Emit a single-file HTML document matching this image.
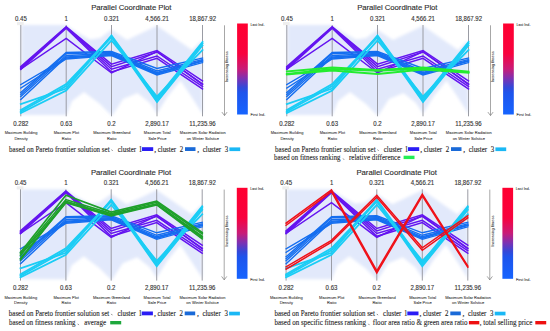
<!DOCTYPE html>
<html><head><meta charset="utf-8"><style>
html,body{margin:0;padding:0;background:#fff;}
svg{display:block;}
.s{font-family:"Liberation Sans",sans-serif;}
.r{font-family:"Liberation Serif",serif;stroke:#2a2a2a;stroke-width:0.12px;}
</style></head><body>
<svg width="550" height="331" viewBox="0 0 550 331">
<defs>
<linearGradient id="cb" x1="0" y1="0" x2="0" y2="1">
<stop offset="0" stop-color="#ff0030"/>
<stop offset="0.33" stop-color="#f8023e"/>
<stop offset="0.5" stop-color="#c81c78"/>
<stop offset="0.6" stop-color="#8030b0"/>
<stop offset="0.7" stop-color="#3448d8"/>
<stop offset="0.76" stop-color="#1e54ec"/>
<stop offset="1" stop-color="#1664ff"/>
</linearGradient>
<filter id="bl" x="-10%" y="-10%" width="120%" height="120%"><feGaussianBlur stdDeviation="1.6"/></filter>
</defs>
<rect width="550" height="331" fill="#fff"/>
<g transform="translate(0,0)">
<polygon points="21.3,25 66.2,25 75,31 90,39.5 100,38 111.5,29.8 127,40 157,25.8 192,50 202.5,40 202.5,114 191,96 180.5,80.5 168,96 157,113.5 150,103 137.5,93 123,99 112,116 100,104 84,92 72,101 66.5,115 21.3,115" fill="#e2e9fb" filter="url(#bl)"/>
<rect x="17" y="22" width="6.7" height="3.2" fill="#eeeeee"/>
<line x1="20.8" y1="25" x2="20.8" y2="116.3" stroke="#9a9ca4" stroke-width="1"/>
<line x1="66.2" y1="25" x2="66.2" y2="116.3" stroke="#9a9ca4" stroke-width="1"/>
<line x1="111.5" y1="25" x2="111.5" y2="116.3" stroke="#9a9ca4" stroke-width="1"/>
<line x1="157.0" y1="25" x2="157.0" y2="116.3" stroke="#9a9ca4" stroke-width="1"/>
<line x1="202.5" y1="25" x2="202.5" y2="116.3" stroke="#9a9ca4" stroke-width="1"/>
<polyline points="20.8,66.5 66.2,26.8 111.5,64.2 157.0,50.5 202.5,81.0" fill="none" stroke="#6414f0" stroke-width="1.5" stroke-opacity="1.0" stroke-linejoin="miter" stroke-miterlimit="6" stroke-linecap="square"/>
<polyline points="20.8,67.5 66.2,27.3 111.5,66.6 157.0,52.0 202.5,84.0" fill="none" stroke="#6414f0" stroke-width="1.5" stroke-opacity="1.0" stroke-linejoin="miter" stroke-miterlimit="6" stroke-linecap="square"/>
<polyline points="20.8,68.5 66.2,27.8 111.5,69.2 157.0,56.0 202.5,86.5" fill="none" stroke="#6414f0" stroke-width="1.5" stroke-opacity="1.0" stroke-linejoin="miter" stroke-miterlimit="6" stroke-linecap="square"/>
<polyline points="20.8,69.5 66.2,28.3 111.5,72.0 157.0,58.3 202.5,89.0" fill="none" stroke="#6414f0" stroke-width="1.5" stroke-opacity="1.0" stroke-linejoin="miter" stroke-miterlimit="6" stroke-linecap="square"/>
<polyline points="20.8,69.0 66.2,38.4 111.5,73.0 157.0,51.5 202.5,84.5" fill="none" stroke="#6414f0" stroke-width="1.5" stroke-opacity="1.0" stroke-linejoin="miter" stroke-miterlimit="6" stroke-linecap="square"/>
<polyline points="20.8,84.5 66.2,58.0 111.5,54.5 157.0,74.0 202.5,61.0" fill="none" stroke="#146ef0" stroke-width="1.4" stroke-opacity="1.0" stroke-linejoin="miter" stroke-miterlimit="6" stroke-linecap="square"/>
<polyline points="20.8,88.0 66.2,59.0 111.5,55.5 157.0,75.0 202.5,62.5" fill="none" stroke="#146ef0" stroke-width="1.4" stroke-opacity="1.0" stroke-linejoin="miter" stroke-miterlimit="6" stroke-linecap="square"/>
<polyline points="20.8,92.5 66.2,52.5 111.5,51.5 157.0,68.5 202.5,58.0" fill="none" stroke="#146ef0" stroke-width="1.4" stroke-opacity="1.0" stroke-linejoin="miter" stroke-miterlimit="6" stroke-linecap="square"/>
<polyline points="20.8,94.5 66.2,53.5 111.5,52.5 157.0,71.0 202.5,59.5" fill="none" stroke="#146ef0" stroke-width="1.4" stroke-opacity="1.0" stroke-linejoin="miter" stroke-miterlimit="6" stroke-linecap="square"/>
<polyline points="20.8,96.5 66.2,55.5 111.5,53.5 157.0,72.5 202.5,61.0" fill="none" stroke="#146ef0" stroke-width="1.4" stroke-opacity="1.0" stroke-linejoin="miter" stroke-miterlimit="6" stroke-linecap="square"/>
<polyline points="20.8,99.5 66.2,57.0 111.5,54.5 157.0,73.5 202.5,60.5" fill="none" stroke="#146ef0" stroke-width="1.4" stroke-opacity="1.0" stroke-linejoin="miter" stroke-miterlimit="6" stroke-linecap="square"/>
<polyline points="20.8,104.0 66.2,88.5 111.5,35.5 157.0,98.0 202.5,42.0" fill="none" stroke="#1acdf5" stroke-width="1.8" stroke-opacity="1.0" stroke-linejoin="miter" stroke-miterlimit="6" stroke-linecap="square"/>
<polyline points="20.8,110.0 66.2,84.0 111.5,36.3 157.0,100.0 202.5,43.5" fill="none" stroke="#1acdf5" stroke-width="1.8" stroke-opacity="1.0" stroke-linejoin="miter" stroke-miterlimit="6" stroke-linecap="square"/>
<polyline points="20.8,111.5 66.2,86.0 111.5,37.2 157.0,102.0 202.5,45.5" fill="none" stroke="#1acdf5" stroke-width="1.8" stroke-opacity="1.0" stroke-linejoin="miter" stroke-miterlimit="6" stroke-linecap="square"/>
<polyline points="20.8,113.0 66.2,90.5 111.5,40.5 157.0,96.5 202.5,50.0" fill="none" stroke="#1acdf5" stroke-width="1.8" stroke-opacity="1.0" stroke-linejoin="miter" stroke-miterlimit="6" stroke-linecap="square"/>

<text x="91.20" y="10.40" font-size="7.75" class="s" fill="#2e2e2e" stroke="#2e2e2e" stroke-width="0.12" textLength="80.30" lengthAdjust="spacing">Parallel Coordinate Plot</text>
<text x="20.90" y="20.50" font-size="6.3" class="s" fill="#333" stroke="#333" stroke-width="0.12" text-anchor="middle" textLength="11.77" lengthAdjust="spacingAndGlyphs">0.45</text>
<text x="20.80" y="125.80" font-size="6.3" class="s" fill="#333" stroke="#333" stroke-width="0.12" text-anchor="middle" textLength="15.13" lengthAdjust="spacingAndGlyphs">0.282</text>
<text x="21.10" y="134.30" font-size="4.2" class="s" fill="#2a2a2a" stroke="#2a2a2a" stroke-width="0.05" text-anchor="middle" textLength="32.77" lengthAdjust="spacingAndGlyphs">Maximum Building</text>
<text x="21.10" y="139.70" font-size="4.2" class="s" fill="#2a2a2a" stroke="#2a2a2a" stroke-width="0.05" text-anchor="middle" textLength="13.37" lengthAdjust="spacingAndGlyphs">Density</text>
<text x="66.30" y="20.50" font-size="6.3" class="s" fill="#333" stroke="#333" stroke-width="0.12" text-anchor="middle" textLength="3.36" lengthAdjust="spacingAndGlyphs">1</text>
<text x="66.20" y="125.80" font-size="6.3" class="s" fill="#333" stroke="#333" stroke-width="0.12" text-anchor="middle" textLength="11.77" lengthAdjust="spacingAndGlyphs">0.63</text>
<text x="66.50" y="134.30" font-size="4.2" class="s" fill="#2a2a2a" stroke="#2a2a2a" stroke-width="0.05" text-anchor="middle" textLength="25.41" lengthAdjust="spacingAndGlyphs">Maximum Plot</text>
<text x="66.50" y="139.70" font-size="4.2" class="s" fill="#2a2a2a" stroke="#2a2a2a" stroke-width="0.05" text-anchor="middle" textLength="9.36" lengthAdjust="spacingAndGlyphs">Ratio</text>
<text x="111.60" y="20.50" font-size="6.3" class="s" fill="#333" stroke="#333" stroke-width="0.12" text-anchor="middle" textLength="15.13" lengthAdjust="spacingAndGlyphs">0.321</text>
<text x="111.50" y="125.80" font-size="6.3" class="s" fill="#333" stroke="#333" stroke-width="0.12" text-anchor="middle" textLength="8.41" lengthAdjust="spacingAndGlyphs">0.2</text>
<text x="111.80" y="134.30" font-size="4.2" class="s" fill="#2a2a2a" stroke="#2a2a2a" stroke-width="0.05" text-anchor="middle" textLength="37.22" lengthAdjust="spacingAndGlyphs">Maximum Greenland</text>
<text x="111.80" y="139.70" font-size="4.2" class="s" fill="#2a2a2a" stroke="#2a2a2a" stroke-width="0.05" text-anchor="middle" textLength="9.36" lengthAdjust="spacingAndGlyphs">Ratio</text>
<text x="157.10" y="20.50" font-size="6.3" class="s" fill="#333" stroke="#333" stroke-width="0.12" text-anchor="middle" textLength="23.54" lengthAdjust="spacingAndGlyphs">4,566.21</text>
<text x="157.00" y="125.80" font-size="6.3" class="s" fill="#333" stroke="#333" stroke-width="0.12" text-anchor="middle" textLength="23.54" lengthAdjust="spacingAndGlyphs">2,890.17</text>
<text x="157.30" y="134.30" font-size="4.2" class="s" fill="#2a2a2a" stroke="#2a2a2a" stroke-width="0.05" text-anchor="middle" textLength="26.89" lengthAdjust="spacingAndGlyphs">Maximum Total</text>
<text x="157.30" y="139.70" font-size="4.2" class="s" fill="#2a2a2a" stroke="#2a2a2a" stroke-width="0.05" text-anchor="middle" textLength="18.28" lengthAdjust="spacingAndGlyphs">Sale Price</text>
<text x="202.60" y="20.50" font-size="6.3" class="s" fill="#333" stroke="#333" stroke-width="0.12" text-anchor="middle" textLength="26.90" lengthAdjust="spacingAndGlyphs">18,867.92</text>
<text x="202.50" y="125.80" font-size="6.3" class="s" fill="#333" stroke="#333" stroke-width="0.12" text-anchor="middle" textLength="26.45" lengthAdjust="spacingAndGlyphs">11,235.96</text>
<text x="202.80" y="134.30" font-size="4.2" class="s" fill="#2a2a2a" stroke="#2a2a2a" stroke-width="0.05" text-anchor="middle" textLength="45.92" lengthAdjust="spacingAndGlyphs">Maximum Solar Radiation</text>
<text x="202.80" y="139.70" font-size="4.2" class="s" fill="#2a2a2a" stroke="#2a2a2a" stroke-width="0.05" text-anchor="middle" textLength="32.32" lengthAdjust="spacingAndGlyphs">on Winter Solstice</text>
<rect x="237.1" y="23.5" width="10.7" height="91" fill="url(#cb)"/>
<line x1="224.5" y1="25.3" x2="224.5" y2="115.3" stroke="#777" stroke-width="0.65"/>
<polyline points="221.9,112.1 224.5,115.6 227.1,112.1" fill="none" stroke="#666" stroke-width="0.6"/>
<text x="250.50" y="25.60" font-size="4.2" class="s" fill="#2a2a2a" stroke="#2a2a2a" stroke-width="0.06" textLength="13.90" lengthAdjust="spacingAndGlyphs">Last Ind.</text>
<text x="250.60" y="116.30" font-size="4.3" class="s" fill="#2a2a2a" stroke="#2a2a2a" stroke-width="0.06" textLength="14.60" lengthAdjust="spacingAndGlyphs">First Ind.</text>
<text transform="translate(228.3,66.8) rotate(-90)" font-size="4" fill="#333" stroke="#333" stroke-width="0.05" text-anchor="middle" class="s" textLength="31" lengthAdjust="spacing">Increasing fitness</text>
<text x="9.10" y="151.80" font-size="7.9" class="r" fill="#2a2a2a" textLength="100.50" lengthAdjust="spacingAndGlyphs">based on Pareto frontier solution set</text>
<path d="M111.6,149.6 L112.6,150.9" stroke="#555" stroke-width="0.7" fill="none"/>
<text x="117.80" y="151.80" font-size="7.9" class="r" fill="#222" textLength="18.32" lengthAdjust="spacingAndGlyphs">cluster</text>
<text x="138.80" y="151.80" font-size="7.9" class="r" fill="#222" textLength="3.44" lengthAdjust="spacingAndGlyphs">1</text>
<rect x="142" y="147.2" width="11.2" height="3.8" fill="#2a1cf5"/>
<text x="154.20" y="151.80" font-size="7.9" class="r" fill="#222">,</text>
<text x="157.70" y="151.80" font-size="7.9" class="r" fill="#222" textLength="18.32" lengthAdjust="spacingAndGlyphs">cluster</text>
<text x="179.80" y="151.80" font-size="7.9" class="r" fill="#222" textLength="3.44" lengthAdjust="spacingAndGlyphs">2</text>
<rect x="185" y="147.2" width="10.5" height="3.8" fill="#1a6ad8"/>
<text x="197.30" y="151.80" font-size="7.9" class="r" fill="#222">,</text>
<text x="202.70" y="151.80" font-size="7.9" class="r" fill="#222" textLength="18.32" lengthAdjust="spacingAndGlyphs">cluster</text>
<text x="224.80" y="151.80" font-size="7.9" class="r" fill="#222" textLength="3.44" lengthAdjust="spacingAndGlyphs">3</text>
<rect x="229.4" y="147.4" width="10.8" height="3.7" fill="#1ab8f5"/>

</g>
<g transform="translate(266,0)">
<polygon points="21.3,25 66.2,25 75,31 90,39.5 100,38 111.5,29.8 127,40 157,25.8 192,50 202.5,40 202.5,114 191,96 180.5,80.5 168,96 157,113.5 150,103 137.5,93 123,99 112,116 100,104 84,92 72,101 66.5,115 21.3,115" fill="#e2e9fb" filter="url(#bl)"/>
<rect x="17" y="22" width="6.7" height="3.2" fill="#eeeeee"/>
<line x1="20.8" y1="25" x2="20.8" y2="116.3" stroke="#9a9ca4" stroke-width="1"/>
<line x1="66.2" y1="25" x2="66.2" y2="116.3" stroke="#9a9ca4" stroke-width="1"/>
<line x1="111.5" y1="25" x2="111.5" y2="116.3" stroke="#9a9ca4" stroke-width="1"/>
<line x1="157.0" y1="25" x2="157.0" y2="116.3" stroke="#9a9ca4" stroke-width="1"/>
<line x1="202.5" y1="25" x2="202.5" y2="116.3" stroke="#9a9ca4" stroke-width="1"/>
<polyline points="20.8,66.5 66.2,26.8 111.5,64.2 157.0,50.5 202.5,81.0" fill="none" stroke="#6414f0" stroke-width="1.5" stroke-opacity="1.0" stroke-linejoin="miter" stroke-miterlimit="6" stroke-linecap="square"/>
<polyline points="20.8,67.5 66.2,27.3 111.5,66.6 157.0,52.0 202.5,84.0" fill="none" stroke="#6414f0" stroke-width="1.5" stroke-opacity="1.0" stroke-linejoin="miter" stroke-miterlimit="6" stroke-linecap="square"/>
<polyline points="20.8,68.5 66.2,27.8 111.5,69.2 157.0,56.0 202.5,86.5" fill="none" stroke="#6414f0" stroke-width="1.5" stroke-opacity="1.0" stroke-linejoin="miter" stroke-miterlimit="6" stroke-linecap="square"/>
<polyline points="20.8,69.5 66.2,28.3 111.5,72.0 157.0,58.3 202.5,89.0" fill="none" stroke="#6414f0" stroke-width="1.5" stroke-opacity="1.0" stroke-linejoin="miter" stroke-miterlimit="6" stroke-linecap="square"/>
<polyline points="20.8,69.0 66.2,38.4 111.5,73.0 157.0,51.5 202.5,84.5" fill="none" stroke="#6414f0" stroke-width="1.5" stroke-opacity="1.0" stroke-linejoin="miter" stroke-miterlimit="6" stroke-linecap="square"/>
<polyline points="20.8,84.5 66.2,58.0 111.5,54.5 157.0,74.0 202.5,61.0" fill="none" stroke="#146ef0" stroke-width="1.4" stroke-opacity="1.0" stroke-linejoin="miter" stroke-miterlimit="6" stroke-linecap="square"/>
<polyline points="20.8,88.0 66.2,59.0 111.5,55.5 157.0,75.0 202.5,62.5" fill="none" stroke="#146ef0" stroke-width="1.4" stroke-opacity="1.0" stroke-linejoin="miter" stroke-miterlimit="6" stroke-linecap="square"/>
<polyline points="20.8,92.5 66.2,52.5 111.5,51.5 157.0,68.5 202.5,58.0" fill="none" stroke="#146ef0" stroke-width="1.4" stroke-opacity="1.0" stroke-linejoin="miter" stroke-miterlimit="6" stroke-linecap="square"/>
<polyline points="20.8,94.5 66.2,53.5 111.5,52.5 157.0,71.0 202.5,59.5" fill="none" stroke="#146ef0" stroke-width="1.4" stroke-opacity="1.0" stroke-linejoin="miter" stroke-miterlimit="6" stroke-linecap="square"/>
<polyline points="20.8,96.5 66.2,55.5 111.5,53.5 157.0,72.5 202.5,61.0" fill="none" stroke="#146ef0" stroke-width="1.4" stroke-opacity="1.0" stroke-linejoin="miter" stroke-miterlimit="6" stroke-linecap="square"/>
<polyline points="20.8,99.5 66.2,57.0 111.5,54.5 157.0,73.5 202.5,60.5" fill="none" stroke="#146ef0" stroke-width="1.4" stroke-opacity="1.0" stroke-linejoin="miter" stroke-miterlimit="6" stroke-linecap="square"/>
<polyline points="20.8,104.0 66.2,88.5 111.5,35.5 157.0,98.0 202.5,42.0" fill="none" stroke="#1acdf5" stroke-width="1.8" stroke-opacity="1.0" stroke-linejoin="miter" stroke-miterlimit="6" stroke-linecap="square"/>
<polyline points="20.8,110.0 66.2,84.0 111.5,36.3 157.0,100.0 202.5,43.5" fill="none" stroke="#1acdf5" stroke-width="1.8" stroke-opacity="1.0" stroke-linejoin="miter" stroke-miterlimit="6" stroke-linecap="square"/>
<polyline points="20.8,111.5 66.2,86.0 111.5,37.2 157.0,102.0 202.5,45.5" fill="none" stroke="#1acdf5" stroke-width="1.8" stroke-opacity="1.0" stroke-linejoin="miter" stroke-miterlimit="6" stroke-linecap="square"/>
<polyline points="20.8,113.0 66.2,90.5 111.5,40.5 157.0,96.5 202.5,50.0" fill="none" stroke="#1acdf5" stroke-width="1.8" stroke-opacity="1.0" stroke-linejoin="miter" stroke-miterlimit="6" stroke-linecap="square"/>
<polyline points="20.8,71.5 66.2,67.5 111.5,70.0 157.0,67.5 202.5,71.5" fill="none" stroke="#24ec30" stroke-width="1.8" stroke-opacity="1.0" stroke-linejoin="miter" stroke-miterlimit="6" stroke-linecap="square"/>
<polyline points="20.8,74.0 66.2,69.0 111.5,70.8 157.0,68.5 202.5,72.2" fill="none" stroke="#24ec30" stroke-width="1.8" stroke-opacity="1.0" stroke-linejoin="miter" stroke-miterlimit="6" stroke-linecap="square"/>
<polyline points="20.8,74.5 66.2,70.5 111.5,74.0 157.0,69.5 202.5,72.8" fill="none" stroke="#24ec30" stroke-width="1.8" stroke-opacity="1.0" stroke-linejoin="miter" stroke-miterlimit="6" stroke-linecap="square"/>
<text x="91.20" y="10.40" font-size="7.75" class="s" fill="#2e2e2e" stroke="#2e2e2e" stroke-width="0.12" textLength="80.30" lengthAdjust="spacing">Parallel Coordinate Plot</text>
<text x="20.90" y="20.50" font-size="6.3" class="s" fill="#333" stroke="#333" stroke-width="0.12" text-anchor="middle" textLength="11.77" lengthAdjust="spacingAndGlyphs">0.45</text>
<text x="20.80" y="125.80" font-size="6.3" class="s" fill="#333" stroke="#333" stroke-width="0.12" text-anchor="middle" textLength="15.13" lengthAdjust="spacingAndGlyphs">0.282</text>
<text x="21.10" y="134.30" font-size="4.2" class="s" fill="#2a2a2a" stroke="#2a2a2a" stroke-width="0.05" text-anchor="middle" textLength="32.77" lengthAdjust="spacingAndGlyphs">Maximum Building</text>
<text x="21.10" y="139.70" font-size="4.2" class="s" fill="#2a2a2a" stroke="#2a2a2a" stroke-width="0.05" text-anchor="middle" textLength="13.37" lengthAdjust="spacingAndGlyphs">Density</text>
<text x="66.30" y="20.50" font-size="6.3" class="s" fill="#333" stroke="#333" stroke-width="0.12" text-anchor="middle" textLength="3.36" lengthAdjust="spacingAndGlyphs">1</text>
<text x="66.20" y="125.80" font-size="6.3" class="s" fill="#333" stroke="#333" stroke-width="0.12" text-anchor="middle" textLength="11.77" lengthAdjust="spacingAndGlyphs">0.63</text>
<text x="66.50" y="134.30" font-size="4.2" class="s" fill="#2a2a2a" stroke="#2a2a2a" stroke-width="0.05" text-anchor="middle" textLength="25.41" lengthAdjust="spacingAndGlyphs">Maximum Plot</text>
<text x="66.50" y="139.70" font-size="4.2" class="s" fill="#2a2a2a" stroke="#2a2a2a" stroke-width="0.05" text-anchor="middle" textLength="9.36" lengthAdjust="spacingAndGlyphs">Ratio</text>
<text x="111.60" y="20.50" font-size="6.3" class="s" fill="#333" stroke="#333" stroke-width="0.12" text-anchor="middle" textLength="15.13" lengthAdjust="spacingAndGlyphs">0.321</text>
<text x="111.50" y="125.80" font-size="6.3" class="s" fill="#333" stroke="#333" stroke-width="0.12" text-anchor="middle" textLength="8.41" lengthAdjust="spacingAndGlyphs">0.2</text>
<text x="111.80" y="134.30" font-size="4.2" class="s" fill="#2a2a2a" stroke="#2a2a2a" stroke-width="0.05" text-anchor="middle" textLength="37.22" lengthAdjust="spacingAndGlyphs">Maximum Greenland</text>
<text x="111.80" y="139.70" font-size="4.2" class="s" fill="#2a2a2a" stroke="#2a2a2a" stroke-width="0.05" text-anchor="middle" textLength="9.36" lengthAdjust="spacingAndGlyphs">Ratio</text>
<text x="157.10" y="20.50" font-size="6.3" class="s" fill="#333" stroke="#333" stroke-width="0.12" text-anchor="middle" textLength="23.54" lengthAdjust="spacingAndGlyphs">4,566.21</text>
<text x="157.00" y="125.80" font-size="6.3" class="s" fill="#333" stroke="#333" stroke-width="0.12" text-anchor="middle" textLength="23.54" lengthAdjust="spacingAndGlyphs">2,890.17</text>
<text x="157.30" y="134.30" font-size="4.2" class="s" fill="#2a2a2a" stroke="#2a2a2a" stroke-width="0.05" text-anchor="middle" textLength="26.89" lengthAdjust="spacingAndGlyphs">Maximum Total</text>
<text x="157.30" y="139.70" font-size="4.2" class="s" fill="#2a2a2a" stroke="#2a2a2a" stroke-width="0.05" text-anchor="middle" textLength="18.28" lengthAdjust="spacingAndGlyphs">Sale Price</text>
<text x="202.60" y="20.50" font-size="6.3" class="s" fill="#333" stroke="#333" stroke-width="0.12" text-anchor="middle" textLength="26.90" lengthAdjust="spacingAndGlyphs">18,867.92</text>
<text x="202.50" y="125.80" font-size="6.3" class="s" fill="#333" stroke="#333" stroke-width="0.12" text-anchor="middle" textLength="26.45" lengthAdjust="spacingAndGlyphs">11,235.96</text>
<text x="202.80" y="134.30" font-size="4.2" class="s" fill="#2a2a2a" stroke="#2a2a2a" stroke-width="0.05" text-anchor="middle" textLength="45.92" lengthAdjust="spacingAndGlyphs">Maximum Solar Radiation</text>
<text x="202.80" y="139.70" font-size="4.2" class="s" fill="#2a2a2a" stroke="#2a2a2a" stroke-width="0.05" text-anchor="middle" textLength="32.32" lengthAdjust="spacingAndGlyphs">on Winter Solstice</text>
<rect x="237.1" y="23.5" width="10.7" height="91" fill="url(#cb)"/>
<line x1="224.5" y1="25.3" x2="224.5" y2="115.3" stroke="#777" stroke-width="0.65"/>
<polyline points="221.9,112.1 224.5,115.6 227.1,112.1" fill="none" stroke="#666" stroke-width="0.6"/>
<text x="250.50" y="25.60" font-size="4.2" class="s" fill="#2a2a2a" stroke="#2a2a2a" stroke-width="0.06" textLength="13.90" lengthAdjust="spacingAndGlyphs">Last Ind.</text>
<text x="250.60" y="116.30" font-size="4.3" class="s" fill="#2a2a2a" stroke="#2a2a2a" stroke-width="0.06" textLength="14.60" lengthAdjust="spacingAndGlyphs">First Ind.</text>
<text transform="translate(228.3,66.8) rotate(-90)" font-size="4" fill="#333" stroke="#333" stroke-width="0.05" text-anchor="middle" class="s" textLength="31" lengthAdjust="spacing">Increasing fitness</text>
<text x="9.10" y="151.80" font-size="7.9" class="r" fill="#2a2a2a" textLength="100.50" lengthAdjust="spacingAndGlyphs">based on Pareto frontier solution set</text>
<path d="M111.6,149.6 L112.6,150.9" stroke="#555" stroke-width="0.7" fill="none"/>
<text x="117.80" y="151.80" font-size="7.9" class="r" fill="#222" textLength="18.32" lengthAdjust="spacingAndGlyphs">cluster</text>
<text x="138.80" y="151.80" font-size="7.9" class="r" fill="#222" textLength="3.44" lengthAdjust="spacingAndGlyphs">1</text>
<rect x="142" y="147.2" width="11.2" height="3.8" fill="#2a1cf5"/>
<text x="154.20" y="151.80" font-size="7.9" class="r" fill="#222">,</text>
<text x="157.70" y="151.80" font-size="7.9" class="r" fill="#222" textLength="18.32" lengthAdjust="spacingAndGlyphs">cluster</text>
<text x="179.80" y="151.80" font-size="7.9" class="r" fill="#222" textLength="3.44" lengthAdjust="spacingAndGlyphs">2</text>
<rect x="185" y="147.2" width="10.5" height="3.8" fill="#1a6ad8"/>
<text x="197.30" y="151.80" font-size="7.9" class="r" fill="#222">,</text>
<text x="202.70" y="151.80" font-size="7.9" class="r" fill="#222" textLength="18.32" lengthAdjust="spacingAndGlyphs">cluster</text>
<text x="224.80" y="151.80" font-size="7.9" class="r" fill="#222" textLength="3.44" lengthAdjust="spacingAndGlyphs">3</text>
<rect x="229.4" y="147.4" width="10.8" height="3.7" fill="#1ab8f5"/>
<text x="8.00" y="160.00" font-size="7.9" class="r" fill="#2a2a2a" textLength="66.50" lengthAdjust="spacingAndGlyphs">based on fitness ranking</text>
<path d="M77.1,158.5 L78.1,159.8" stroke="#555" stroke-width="0.7" fill="none"/>
<text x="82.90" y="160.00" font-size="7.9" class="r" fill="#2a2a2a" textLength="51.50" lengthAdjust="spacingAndGlyphs">relative difference</text>
<rect x="137.6" y="155.7" width="10.9" height="3.4" fill="#22ee55"/>
</g>
<g transform="translate(-0.3,164.3)">
<polygon points="21.3,25 66.2,25 75,31 90,39.5 100,38 111.5,29.8 127,40 157,25.8 192,50 202.5,40 202.5,114 191,96 180.5,80.5 168,96 157,113.5 150,103 137.5,93 123,99 112,116 100,104 84,92 72,101 66.5,115 21.3,115" fill="#e2e9fb" filter="url(#bl)"/>
<rect x="17" y="22" width="6.7" height="3.2" fill="#eeeeee"/>
<line x1="20.8" y1="25" x2="20.8" y2="116.3" stroke="#9a9ca4" stroke-width="1"/>
<line x1="66.2" y1="25" x2="66.2" y2="116.3" stroke="#9a9ca4" stroke-width="1"/>
<line x1="111.5" y1="25" x2="111.5" y2="116.3" stroke="#9a9ca4" stroke-width="1"/>
<line x1="157.0" y1="25" x2="157.0" y2="116.3" stroke="#9a9ca4" stroke-width="1"/>
<line x1="202.5" y1="25" x2="202.5" y2="116.3" stroke="#9a9ca4" stroke-width="1"/>
<polyline points="20.8,66.5 66.2,26.8 111.5,64.2 157.0,50.5 202.5,81.0" fill="none" stroke="#6414f0" stroke-width="1.5" stroke-opacity="1.0" stroke-linejoin="miter" stroke-miterlimit="6" stroke-linecap="square"/>
<polyline points="20.8,67.5 66.2,27.3 111.5,66.6 157.0,52.0 202.5,84.0" fill="none" stroke="#6414f0" stroke-width="1.5" stroke-opacity="1.0" stroke-linejoin="miter" stroke-miterlimit="6" stroke-linecap="square"/>
<polyline points="20.8,68.5 66.2,27.8 111.5,69.2 157.0,56.0 202.5,86.5" fill="none" stroke="#6414f0" stroke-width="1.5" stroke-opacity="1.0" stroke-linejoin="miter" stroke-miterlimit="6" stroke-linecap="square"/>
<polyline points="20.8,69.5 66.2,28.3 111.5,72.0 157.0,58.3 202.5,89.0" fill="none" stroke="#6414f0" stroke-width="1.5" stroke-opacity="1.0" stroke-linejoin="miter" stroke-miterlimit="6" stroke-linecap="square"/>
<polyline points="20.8,69.0 66.2,38.4 111.5,73.0 157.0,51.5 202.5,84.5" fill="none" stroke="#6414f0" stroke-width="1.5" stroke-opacity="1.0" stroke-linejoin="miter" stroke-miterlimit="6" stroke-linecap="square"/>
<polyline points="20.8,84.5 66.2,58.0 111.5,54.5 157.0,74.0 202.5,61.0" fill="none" stroke="#146ef0" stroke-width="1.4" stroke-opacity="1.0" stroke-linejoin="miter" stroke-miterlimit="6" stroke-linecap="square"/>
<polyline points="20.8,88.0 66.2,59.0 111.5,55.5 157.0,75.0 202.5,62.5" fill="none" stroke="#146ef0" stroke-width="1.4" stroke-opacity="1.0" stroke-linejoin="miter" stroke-miterlimit="6" stroke-linecap="square"/>
<polyline points="20.8,92.5 66.2,52.5 111.5,51.5 157.0,68.5 202.5,58.0" fill="none" stroke="#146ef0" stroke-width="1.4" stroke-opacity="1.0" stroke-linejoin="miter" stroke-miterlimit="6" stroke-linecap="square"/>
<polyline points="20.8,94.5 66.2,53.5 111.5,52.5 157.0,71.0 202.5,59.5" fill="none" stroke="#146ef0" stroke-width="1.4" stroke-opacity="1.0" stroke-linejoin="miter" stroke-miterlimit="6" stroke-linecap="square"/>
<polyline points="20.8,96.5 66.2,55.5 111.5,53.5 157.0,72.5 202.5,61.0" fill="none" stroke="#146ef0" stroke-width="1.4" stroke-opacity="1.0" stroke-linejoin="miter" stroke-miterlimit="6" stroke-linecap="square"/>
<polyline points="20.8,99.5 66.2,57.0 111.5,54.5 157.0,73.5 202.5,60.5" fill="none" stroke="#146ef0" stroke-width="1.4" stroke-opacity="1.0" stroke-linejoin="miter" stroke-miterlimit="6" stroke-linecap="square"/>
<polyline points="20.8,104.0 66.2,88.5 111.5,35.5 157.0,98.0 202.5,42.0" fill="none" stroke="#1acdf5" stroke-width="1.8" stroke-opacity="1.0" stroke-linejoin="miter" stroke-miterlimit="6" stroke-linecap="square"/>
<polyline points="20.8,110.0 66.2,84.0 111.5,36.3 157.0,100.0 202.5,43.5" fill="none" stroke="#1acdf5" stroke-width="1.8" stroke-opacity="1.0" stroke-linejoin="miter" stroke-miterlimit="6" stroke-linecap="square"/>
<polyline points="20.8,111.5 66.2,86.0 111.5,37.2 157.0,102.0 202.5,45.5" fill="none" stroke="#1acdf5" stroke-width="1.8" stroke-opacity="1.0" stroke-linejoin="miter" stroke-miterlimit="6" stroke-linecap="square"/>
<polyline points="20.8,113.0 66.2,90.5 111.5,40.5 157.0,96.5 202.5,50.0" fill="none" stroke="#1acdf5" stroke-width="1.8" stroke-opacity="1.0" stroke-linejoin="miter" stroke-miterlimit="6" stroke-linecap="square"/>
<polyline points="20.8,88.0 66.2,31.0 111.5,47.8 157.0,36.8 202.5,68.2" fill="none" stroke="#1ea02a" stroke-width="1.6" stroke-opacity="1.0" stroke-linejoin="miter" stroke-miterlimit="6" stroke-linecap="square"/>
<polyline points="20.8,89.5 66.2,35.3 111.5,49.3 157.0,38.0 202.5,69.5" fill="none" stroke="#1ea02a" stroke-width="1.6" stroke-opacity="1.0" stroke-linejoin="miter" stroke-miterlimit="6" stroke-linecap="square"/>
<polyline points="20.8,91.0 66.2,38.0 111.5,50.5 157.0,39.5 202.5,72.0" fill="none" stroke="#1ea02a" stroke-width="1.6" stroke-opacity="1.0" stroke-linejoin="miter" stroke-miterlimit="6" stroke-linecap="square"/>
<polyline points="20.8,94.3 66.2,38.5 111.5,51.7 157.0,40.6 202.5,74.5" fill="none" stroke="#1ea02a" stroke-width="1.6" stroke-opacity="1.0" stroke-linejoin="miter" stroke-miterlimit="6" stroke-linecap="square"/>
<polyline points="20.8,95.5 66.2,37.0 111.5,51.0 157.0,40.0 202.5,73.0" fill="none" stroke="#1ea02a" stroke-width="1.6" stroke-opacity="1.0" stroke-linejoin="miter" stroke-miterlimit="6" stroke-linecap="square"/>
<text x="91.20" y="10.40" font-size="7.75" class="s" fill="#2e2e2e" stroke="#2e2e2e" stroke-width="0.12" textLength="80.30" lengthAdjust="spacing">Parallel Coordinate Plot</text>
<text x="20.90" y="20.50" font-size="6.3" class="s" fill="#333" stroke="#333" stroke-width="0.12" text-anchor="middle" textLength="11.77" lengthAdjust="spacingAndGlyphs">0.45</text>
<text x="20.80" y="125.80" font-size="6.3" class="s" fill="#333" stroke="#333" stroke-width="0.12" text-anchor="middle" textLength="15.13" lengthAdjust="spacingAndGlyphs">0.282</text>
<text x="21.10" y="134.30" font-size="4.2" class="s" fill="#2a2a2a" stroke="#2a2a2a" stroke-width="0.05" text-anchor="middle" textLength="32.77" lengthAdjust="spacingAndGlyphs">Maximum Building</text>
<text x="21.10" y="139.70" font-size="4.2" class="s" fill="#2a2a2a" stroke="#2a2a2a" stroke-width="0.05" text-anchor="middle" textLength="13.37" lengthAdjust="spacingAndGlyphs">Density</text>
<text x="66.30" y="20.50" font-size="6.3" class="s" fill="#333" stroke="#333" stroke-width="0.12" text-anchor="middle" textLength="3.36" lengthAdjust="spacingAndGlyphs">1</text>
<text x="66.20" y="125.80" font-size="6.3" class="s" fill="#333" stroke="#333" stroke-width="0.12" text-anchor="middle" textLength="11.77" lengthAdjust="spacingAndGlyphs">0.63</text>
<text x="66.50" y="134.30" font-size="4.2" class="s" fill="#2a2a2a" stroke="#2a2a2a" stroke-width="0.05" text-anchor="middle" textLength="25.41" lengthAdjust="spacingAndGlyphs">Maximum Plot</text>
<text x="66.50" y="139.70" font-size="4.2" class="s" fill="#2a2a2a" stroke="#2a2a2a" stroke-width="0.05" text-anchor="middle" textLength="9.36" lengthAdjust="spacingAndGlyphs">Ratio</text>
<text x="111.60" y="20.50" font-size="6.3" class="s" fill="#333" stroke="#333" stroke-width="0.12" text-anchor="middle" textLength="15.13" lengthAdjust="spacingAndGlyphs">0.321</text>
<text x="111.50" y="125.80" font-size="6.3" class="s" fill="#333" stroke="#333" stroke-width="0.12" text-anchor="middle" textLength="8.41" lengthAdjust="spacingAndGlyphs">0.2</text>
<text x="111.80" y="134.30" font-size="4.2" class="s" fill="#2a2a2a" stroke="#2a2a2a" stroke-width="0.05" text-anchor="middle" textLength="37.22" lengthAdjust="spacingAndGlyphs">Maximum Greenland</text>
<text x="111.80" y="139.70" font-size="4.2" class="s" fill="#2a2a2a" stroke="#2a2a2a" stroke-width="0.05" text-anchor="middle" textLength="9.36" lengthAdjust="spacingAndGlyphs">Ratio</text>
<text x="157.10" y="20.50" font-size="6.3" class="s" fill="#333" stroke="#333" stroke-width="0.12" text-anchor="middle" textLength="23.54" lengthAdjust="spacingAndGlyphs">4,566.21</text>
<text x="157.00" y="125.80" font-size="6.3" class="s" fill="#333" stroke="#333" stroke-width="0.12" text-anchor="middle" textLength="23.54" lengthAdjust="spacingAndGlyphs">2,890.17</text>
<text x="157.30" y="134.30" font-size="4.2" class="s" fill="#2a2a2a" stroke="#2a2a2a" stroke-width="0.05" text-anchor="middle" textLength="26.89" lengthAdjust="spacingAndGlyphs">Maximum Total</text>
<text x="157.30" y="139.70" font-size="4.2" class="s" fill="#2a2a2a" stroke="#2a2a2a" stroke-width="0.05" text-anchor="middle" textLength="18.28" lengthAdjust="spacingAndGlyphs">Sale Price</text>
<text x="202.60" y="20.50" font-size="6.3" class="s" fill="#333" stroke="#333" stroke-width="0.12" text-anchor="middle" textLength="26.90" lengthAdjust="spacingAndGlyphs">18,867.92</text>
<text x="202.50" y="125.80" font-size="6.3" class="s" fill="#333" stroke="#333" stroke-width="0.12" text-anchor="middle" textLength="26.45" lengthAdjust="spacingAndGlyphs">11,235.96</text>
<text x="202.80" y="134.30" font-size="4.2" class="s" fill="#2a2a2a" stroke="#2a2a2a" stroke-width="0.05" text-anchor="middle" textLength="45.92" lengthAdjust="spacingAndGlyphs">Maximum Solar Radiation</text>
<text x="202.80" y="139.70" font-size="4.2" class="s" fill="#2a2a2a" stroke="#2a2a2a" stroke-width="0.05" text-anchor="middle" textLength="32.32" lengthAdjust="spacingAndGlyphs">on Winter Solstice</text>
<rect x="237.1" y="23.5" width="10.7" height="91" fill="url(#cb)"/>
<line x1="224.5" y1="25.3" x2="224.5" y2="115.3" stroke="#777" stroke-width="0.65"/>
<polyline points="221.9,112.1 224.5,115.6 227.1,112.1" fill="none" stroke="#666" stroke-width="0.6"/>
<text x="250.50" y="25.60" font-size="4.2" class="s" fill="#2a2a2a" stroke="#2a2a2a" stroke-width="0.06" textLength="13.90" lengthAdjust="spacingAndGlyphs">Last Ind.</text>
<text x="250.60" y="116.30" font-size="4.3" class="s" fill="#2a2a2a" stroke="#2a2a2a" stroke-width="0.06" textLength="14.60" lengthAdjust="spacingAndGlyphs">First Ind.</text>
<text transform="translate(228.3,66.8) rotate(-90)" font-size="4" fill="#333" stroke="#333" stroke-width="0.05" text-anchor="middle" class="s" textLength="31" lengthAdjust="spacing">Increasing fitness</text>
<text x="9.10" y="151.80" font-size="7.9" class="r" fill="#2a2a2a" textLength="100.50" lengthAdjust="spacingAndGlyphs">based on Pareto frontier solution set</text>
<path d="M111.6,149.6 L112.6,150.9" stroke="#555" stroke-width="0.7" fill="none"/>
<text x="117.80" y="151.80" font-size="7.9" class="r" fill="#222" textLength="18.32" lengthAdjust="spacingAndGlyphs">cluster</text>
<text x="138.80" y="151.80" font-size="7.9" class="r" fill="#222" textLength="3.44" lengthAdjust="spacingAndGlyphs">1</text>
<rect x="142" y="147.2" width="11.2" height="3.8" fill="#2a1cf5"/>
<text x="154.20" y="151.80" font-size="7.9" class="r" fill="#222">,</text>
<text x="157.70" y="151.80" font-size="7.9" class="r" fill="#222" textLength="18.32" lengthAdjust="spacingAndGlyphs">cluster</text>
<text x="179.80" y="151.80" font-size="7.9" class="r" fill="#222" textLength="3.44" lengthAdjust="spacingAndGlyphs">2</text>
<rect x="185" y="147.2" width="10.5" height="3.8" fill="#1a6ad8"/>
<text x="197.30" y="151.80" font-size="7.9" class="r" fill="#222">,</text>
<text x="202.70" y="151.80" font-size="7.9" class="r" fill="#222" textLength="18.32" lengthAdjust="spacingAndGlyphs">cluster</text>
<text x="224.80" y="151.80" font-size="7.9" class="r" fill="#222" textLength="3.44" lengthAdjust="spacingAndGlyphs">3</text>
<rect x="229.4" y="147.4" width="10.8" height="3.7" fill="#1ab8f5"/>
<text x="9.30" y="161.00" font-size="7.9" class="r" fill="#2a2a2a" textLength="66.50" lengthAdjust="spacingAndGlyphs">based on fitness ranking</text>
<path d="M78.1,159.5 L79.1,160.8" stroke="#555" stroke-width="0.7" fill="none"/>
<text x="84.50" y="161.00" font-size="7.9" class="r" fill="#2a2a2a" textLength="21.90" lengthAdjust="spacingAndGlyphs">average</text>
<rect x="110.5" y="156.7" width="11" height="3.4" fill="#1ea83c"/>
</g>
<g transform="translate(265.3,164.3)">
<polygon points="21.3,25 66.2,25 75,31 90,39.5 100,38 111.5,29.8 127,40 157,25.8 192,50 202.5,40 202.5,114 191,96 180.5,80.5 168,96 157,113.5 150,103 137.5,93 123,99 112,116 100,104 84,92 72,101 66.5,115 21.3,115" fill="#e2e9fb" filter="url(#bl)"/>
<rect x="17" y="22" width="6.7" height="3.2" fill="#eeeeee"/>
<line x1="20.8" y1="25" x2="20.8" y2="116.3" stroke="#9a9ca4" stroke-width="1"/>
<line x1="66.2" y1="25" x2="66.2" y2="116.3" stroke="#9a9ca4" stroke-width="1"/>
<line x1="111.5" y1="25" x2="111.5" y2="116.3" stroke="#9a9ca4" stroke-width="1"/>
<line x1="157.0" y1="25" x2="157.0" y2="116.3" stroke="#9a9ca4" stroke-width="1"/>
<line x1="202.5" y1="25" x2="202.5" y2="116.3" stroke="#9a9ca4" stroke-width="1"/>
<polyline points="20.8,66.5 66.2,26.8 111.5,64.2 157.0,50.5 202.5,81.0" fill="none" stroke="#6414f0" stroke-width="1.5" stroke-opacity="1.0" stroke-linejoin="miter" stroke-miterlimit="6" stroke-linecap="square"/>
<polyline points="20.8,67.5 66.2,27.3 111.5,66.6 157.0,52.0 202.5,84.0" fill="none" stroke="#6414f0" stroke-width="1.5" stroke-opacity="1.0" stroke-linejoin="miter" stroke-miterlimit="6" stroke-linecap="square"/>
<polyline points="20.8,68.5 66.2,27.8 111.5,69.2 157.0,56.0 202.5,86.5" fill="none" stroke="#6414f0" stroke-width="1.5" stroke-opacity="1.0" stroke-linejoin="miter" stroke-miterlimit="6" stroke-linecap="square"/>
<polyline points="20.8,69.5 66.2,28.3 111.5,72.0 157.0,58.3 202.5,89.0" fill="none" stroke="#6414f0" stroke-width="1.5" stroke-opacity="1.0" stroke-linejoin="miter" stroke-miterlimit="6" stroke-linecap="square"/>
<polyline points="20.8,69.0 66.2,38.4 111.5,73.0 157.0,51.5 202.5,84.5" fill="none" stroke="#6414f0" stroke-width="1.5" stroke-opacity="1.0" stroke-linejoin="miter" stroke-miterlimit="6" stroke-linecap="square"/>
<polyline points="20.8,84.5 66.2,58.0 111.5,54.5 157.0,74.0 202.5,61.0" fill="none" stroke="#146ef0" stroke-width="1.4" stroke-opacity="1.0" stroke-linejoin="miter" stroke-miterlimit="6" stroke-linecap="square"/>
<polyline points="20.8,88.0 66.2,59.0 111.5,55.5 157.0,75.0 202.5,62.5" fill="none" stroke="#146ef0" stroke-width="1.4" stroke-opacity="1.0" stroke-linejoin="miter" stroke-miterlimit="6" stroke-linecap="square"/>
<polyline points="20.8,92.5 66.2,52.5 111.5,51.5 157.0,68.5 202.5,58.0" fill="none" stroke="#146ef0" stroke-width="1.4" stroke-opacity="1.0" stroke-linejoin="miter" stroke-miterlimit="6" stroke-linecap="square"/>
<polyline points="20.8,94.5 66.2,53.5 111.5,52.5 157.0,71.0 202.5,59.5" fill="none" stroke="#146ef0" stroke-width="1.4" stroke-opacity="1.0" stroke-linejoin="miter" stroke-miterlimit="6" stroke-linecap="square"/>
<polyline points="20.8,96.5 66.2,55.5 111.5,53.5 157.0,72.5 202.5,61.0" fill="none" stroke="#146ef0" stroke-width="1.4" stroke-opacity="1.0" stroke-linejoin="miter" stroke-miterlimit="6" stroke-linecap="square"/>
<polyline points="20.8,99.5 66.2,57.0 111.5,54.5 157.0,73.5 202.5,60.5" fill="none" stroke="#146ef0" stroke-width="1.4" stroke-opacity="1.0" stroke-linejoin="miter" stroke-miterlimit="6" stroke-linecap="square"/>
<polyline points="20.8,104.0 66.2,88.5 111.5,35.5 157.0,98.0 202.5,42.0" fill="none" stroke="#1acdf5" stroke-width="1.8" stroke-opacity="1.0" stroke-linejoin="miter" stroke-miterlimit="6" stroke-linecap="square"/>
<polyline points="20.8,110.0 66.2,84.0 111.5,36.3 157.0,100.0 202.5,43.5" fill="none" stroke="#1acdf5" stroke-width="1.8" stroke-opacity="1.0" stroke-linejoin="miter" stroke-miterlimit="6" stroke-linecap="square"/>
<polyline points="20.8,111.5 66.2,86.0 111.5,37.2 157.0,102.0 202.5,45.5" fill="none" stroke="#1acdf5" stroke-width="1.8" stroke-opacity="1.0" stroke-linejoin="miter" stroke-miterlimit="6" stroke-linecap="square"/>
<polyline points="20.8,113.0 66.2,90.5 111.5,40.5 157.0,96.5 202.5,50.0" fill="none" stroke="#1acdf5" stroke-width="1.8" stroke-opacity="1.0" stroke-linejoin="miter" stroke-miterlimit="6" stroke-linecap="square"/>
<polyline points="20.8,58.8 66.2,25.6 111.5,106.6 157.0,29.8 202.5,101.8" fill="none" stroke="#f01018" stroke-width="1.5" stroke-opacity="1.0" stroke-linejoin="miter" stroke-miterlimit="6" stroke-linecap="square"/>
<polyline points="20.8,61.0 66.2,27.4 111.5,108.6 157.0,31.6 202.5,103.0" fill="none" stroke="#f01018" stroke-width="1.5" stroke-opacity="1.0" stroke-linejoin="miter" stroke-miterlimit="6" stroke-linecap="square"/>
<polyline points="20.8,102.5 66.2,76.0 111.5,31.0 157.0,83.5 202.5,51.5" fill="none" stroke="#f01018" stroke-width="1.5" stroke-opacity="1.0" stroke-linejoin="miter" stroke-miterlimit="6" stroke-linecap="square"/>
<polyline points="20.8,104.8 66.2,77.8 111.5,33.0 157.0,86.0 202.5,53.6" fill="none" stroke="#f01018" stroke-width="1.5" stroke-opacity="1.0" stroke-linejoin="miter" stroke-miterlimit="6" stroke-linecap="square"/>
<text x="91.20" y="10.40" font-size="7.75" class="s" fill="#2e2e2e" stroke="#2e2e2e" stroke-width="0.12" textLength="80.30" lengthAdjust="spacing">Parallel Coordinate Plot</text>
<text x="20.90" y="20.50" font-size="6.3" class="s" fill="#333" stroke="#333" stroke-width="0.12" text-anchor="middle" textLength="11.77" lengthAdjust="spacingAndGlyphs">0.45</text>
<text x="20.80" y="125.80" font-size="6.3" class="s" fill="#333" stroke="#333" stroke-width="0.12" text-anchor="middle" textLength="15.13" lengthAdjust="spacingAndGlyphs">0.282</text>
<text x="21.10" y="134.30" font-size="4.2" class="s" fill="#2a2a2a" stroke="#2a2a2a" stroke-width="0.05" text-anchor="middle" textLength="32.77" lengthAdjust="spacingAndGlyphs">Maximum Building</text>
<text x="21.10" y="139.70" font-size="4.2" class="s" fill="#2a2a2a" stroke="#2a2a2a" stroke-width="0.05" text-anchor="middle" textLength="13.37" lengthAdjust="spacingAndGlyphs">Density</text>
<text x="66.30" y="20.50" font-size="6.3" class="s" fill="#333" stroke="#333" stroke-width="0.12" text-anchor="middle" textLength="3.36" lengthAdjust="spacingAndGlyphs">1</text>
<text x="66.20" y="125.80" font-size="6.3" class="s" fill="#333" stroke="#333" stroke-width="0.12" text-anchor="middle" textLength="11.77" lengthAdjust="spacingAndGlyphs">0.63</text>
<text x="66.50" y="134.30" font-size="4.2" class="s" fill="#2a2a2a" stroke="#2a2a2a" stroke-width="0.05" text-anchor="middle" textLength="25.41" lengthAdjust="spacingAndGlyphs">Maximum Plot</text>
<text x="66.50" y="139.70" font-size="4.2" class="s" fill="#2a2a2a" stroke="#2a2a2a" stroke-width="0.05" text-anchor="middle" textLength="9.36" lengthAdjust="spacingAndGlyphs">Ratio</text>
<text x="111.60" y="20.50" font-size="6.3" class="s" fill="#333" stroke="#333" stroke-width="0.12" text-anchor="middle" textLength="15.13" lengthAdjust="spacingAndGlyphs">0.321</text>
<text x="111.50" y="125.80" font-size="6.3" class="s" fill="#333" stroke="#333" stroke-width="0.12" text-anchor="middle" textLength="8.41" lengthAdjust="spacingAndGlyphs">0.2</text>
<text x="111.80" y="134.30" font-size="4.2" class="s" fill="#2a2a2a" stroke="#2a2a2a" stroke-width="0.05" text-anchor="middle" textLength="37.22" lengthAdjust="spacingAndGlyphs">Maximum Greenland</text>
<text x="111.80" y="139.70" font-size="4.2" class="s" fill="#2a2a2a" stroke="#2a2a2a" stroke-width="0.05" text-anchor="middle" textLength="9.36" lengthAdjust="spacingAndGlyphs">Ratio</text>
<text x="157.10" y="20.50" font-size="6.3" class="s" fill="#333" stroke="#333" stroke-width="0.12" text-anchor="middle" textLength="23.54" lengthAdjust="spacingAndGlyphs">4,566.21</text>
<text x="157.00" y="125.80" font-size="6.3" class="s" fill="#333" stroke="#333" stroke-width="0.12" text-anchor="middle" textLength="23.54" lengthAdjust="spacingAndGlyphs">2,890.17</text>
<text x="157.30" y="134.30" font-size="4.2" class="s" fill="#2a2a2a" stroke="#2a2a2a" stroke-width="0.05" text-anchor="middle" textLength="26.89" lengthAdjust="spacingAndGlyphs">Maximum Total</text>
<text x="157.30" y="139.70" font-size="4.2" class="s" fill="#2a2a2a" stroke="#2a2a2a" stroke-width="0.05" text-anchor="middle" textLength="18.28" lengthAdjust="spacingAndGlyphs">Sale Price</text>
<text x="202.60" y="20.50" font-size="6.3" class="s" fill="#333" stroke="#333" stroke-width="0.12" text-anchor="middle" textLength="26.90" lengthAdjust="spacingAndGlyphs">18,867.92</text>
<text x="202.50" y="125.80" font-size="6.3" class="s" fill="#333" stroke="#333" stroke-width="0.12" text-anchor="middle" textLength="26.45" lengthAdjust="spacingAndGlyphs">11,235.96</text>
<text x="202.80" y="134.30" font-size="4.2" class="s" fill="#2a2a2a" stroke="#2a2a2a" stroke-width="0.05" text-anchor="middle" textLength="45.92" lengthAdjust="spacingAndGlyphs">Maximum Solar Radiation</text>
<text x="202.80" y="139.70" font-size="4.2" class="s" fill="#2a2a2a" stroke="#2a2a2a" stroke-width="0.05" text-anchor="middle" textLength="32.32" lengthAdjust="spacingAndGlyphs">on Winter Solstice</text>
<rect x="237.1" y="23.5" width="10.7" height="91" fill="url(#cb)"/>
<line x1="224.5" y1="25.3" x2="224.5" y2="115.3" stroke="#777" stroke-width="0.65"/>
<polyline points="221.9,112.1 224.5,115.6 227.1,112.1" fill="none" stroke="#666" stroke-width="0.6"/>
<text x="250.50" y="25.60" font-size="4.2" class="s" fill="#2a2a2a" stroke="#2a2a2a" stroke-width="0.06" textLength="13.90" lengthAdjust="spacingAndGlyphs">Last Ind.</text>
<text x="250.60" y="116.30" font-size="4.3" class="s" fill="#2a2a2a" stroke="#2a2a2a" stroke-width="0.06" textLength="14.60" lengthAdjust="spacingAndGlyphs">First Ind.</text>
<text transform="translate(228.3,66.8) rotate(-90)" font-size="4" fill="#333" stroke="#333" stroke-width="0.05" text-anchor="middle" class="s" textLength="31" lengthAdjust="spacing">Increasing fitness</text>
<text x="9.10" y="151.80" font-size="7.9" class="r" fill="#2a2a2a" textLength="100.50" lengthAdjust="spacingAndGlyphs">based on Pareto frontier solution set</text>
<path d="M111.6,149.6 L112.6,150.9" stroke="#555" stroke-width="0.7" fill="none"/>
<text x="117.80" y="151.80" font-size="7.9" class="r" fill="#222" textLength="18.32" lengthAdjust="spacingAndGlyphs">cluster</text>
<text x="138.80" y="151.80" font-size="7.9" class="r" fill="#222" textLength="3.44" lengthAdjust="spacingAndGlyphs">1</text>
<rect x="142" y="147.2" width="11.2" height="3.8" fill="#2a1cf5"/>
<text x="154.20" y="151.80" font-size="7.9" class="r" fill="#222">,</text>
<text x="157.70" y="151.80" font-size="7.9" class="r" fill="#222" textLength="18.32" lengthAdjust="spacingAndGlyphs">cluster</text>
<text x="179.80" y="151.80" font-size="7.9" class="r" fill="#222" textLength="3.44" lengthAdjust="spacingAndGlyphs">2</text>
<rect x="185" y="147.2" width="10.5" height="3.8" fill="#1a6ad8"/>
<text x="197.30" y="151.80" font-size="7.9" class="r" fill="#222">,</text>
<text x="202.70" y="151.80" font-size="7.9" class="r" fill="#222" textLength="18.32" lengthAdjust="spacingAndGlyphs">cluster</text>
<text x="224.80" y="151.80" font-size="7.9" class="r" fill="#222" textLength="3.44" lengthAdjust="spacingAndGlyphs">3</text>
<rect x="229.4" y="147.4" width="10.8" height="3.7" fill="#1ab8f5"/>
<text x="9.10" y="161.00" font-size="7.9" class="r" fill="#2a2a2a" textLength="91.70" lengthAdjust="spacingAndGlyphs">based on specific fitness ranking</text>
<path d="M103.1,159.5 L104.1,160.8" stroke="#555" stroke-width="0.7" fill="none"/>
<text x="107.50" y="161.00" font-size="7.9" class="r" fill="#2a2a2a" textLength="94.70" lengthAdjust="spacingAndGlyphs">floor area ratio &amp; green area ratio</text>
<rect x="203.6" y="156.7" width="10.4" height="3.4" fill="#ee1010"/>
<text x="214.50" y="161.00" font-size="7.9" class="r" fill="#2a2a2a" textLength="52.50" lengthAdjust="spacingAndGlyphs">, total selling price</text>
<rect x="270" y="156.7" width="10.9" height="3.4" fill="#ee1010"/>
</g>
</svg>
</body></html>
